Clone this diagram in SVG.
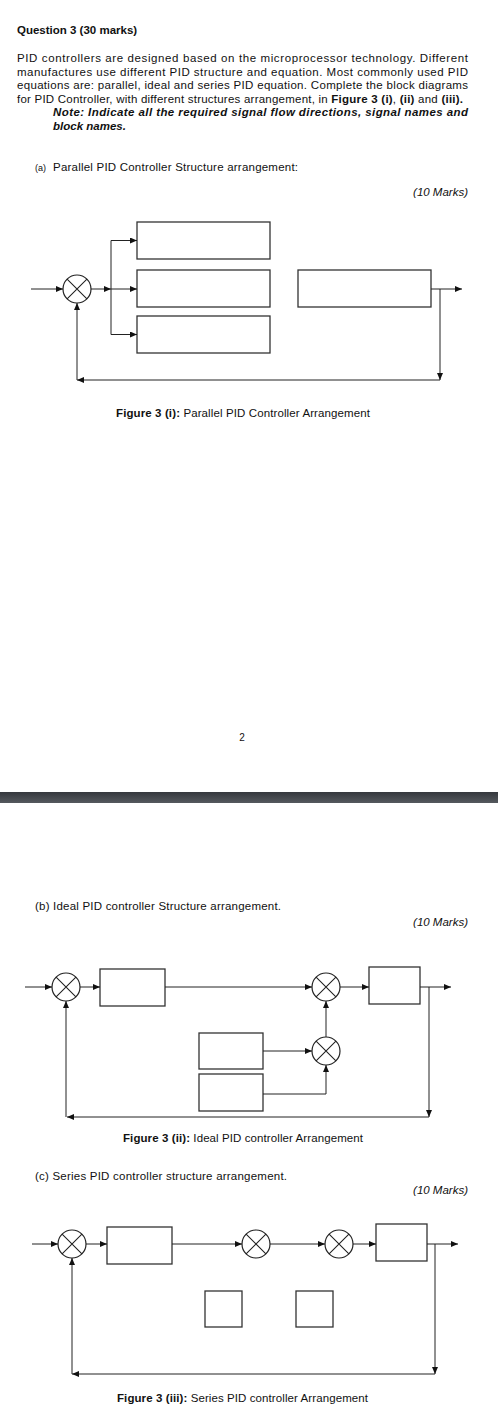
<svg xmlns="http://www.w3.org/2000/svg" width="498" height="1426" viewBox="0 0 498 1426">
<defs>
<marker id="ah" markerUnits="userSpaceOnUse" markerWidth="8" markerHeight="8" refX="7" refY="3" orient="auto"><path d="M0,0 L7,3 L0,6 z" fill="#111"/></marker>
<linearGradient id="bar" x1="0" y1="0" x2="0" y2="1"><stop offset="0" stop-color="#35383d"/><stop offset="1" stop-color="#55595e"/></linearGradient>
<g id="sum"><circle r="14" fill="#fff" stroke="#222" stroke-width="1.2"/><path d="M-9.9,-9.9 L9.9,9.9 M-9.9,9.9 L9.9,-9.9" stroke="#222" stroke-width="1.1"/></g>
</defs>
<style>
text{font-family:"Liberation Sans",Arial,sans-serif;fill:#111}
.t{font-size:11.5px}
.b{font-weight:bold}
.i{font-style:italic}
.box{fill:#fff;stroke:#333;stroke-width:1.3}
.c{fill:none;stroke:#222;stroke-width:1}
.a{marker-end:url(#ah)}
</style>
<rect width="498" height="1426" fill="#fff"/>
<g id="header">
<text class="t b" x="17" y="34">Question 3 (30 marks)</text>
<text class="t" x="17" y="62" textLength="451" lengthAdjust="spacing">PID controllers are designed based on the microprocessor technology. Different</text>
<text class="t" x="17" y="75.5" textLength="451" lengthAdjust="spacing">manufactures use different PID structure and equation. Most commonly used PID</text>
<text class="t" x="17" y="89" textLength="451" lengthAdjust="spacing">equations are: parallel, ideal and series PID equation. Complete the block diagrams</text>
<text class="t" x="17" y="102.5" textLength="446" lengthAdjust="spacing">for PID Controller, with different structures arrangement, in <tspan class="b">Figure 3 (i)</tspan>, <tspan class="b">(ii)</tspan> and <tspan class="b">(iii).</tspan></text>
<text class="t b i" x="53" y="116" textLength="415" lengthAdjust="spacing">Note: Indicate all the required signal flow directions, signal names and</text>
<text class="t b i" x="53" y="130">block names.</text>
</g>
<g id="fig-a-labels">
<text x="35" y="171" font-size="9">(a)</text>
<text class="t" x="53" y="171" textLength="245" lengthAdjust="spacing">Parallel PID Controller Structure arrangement:</text>
<text class="t i" x="468" y="196" text-anchor="end">(10 Marks)</text>
<text class="t" x="116" y="417" textLength="254" lengthAdjust="spacing"><tspan class="b">Figure 3 (i):</tspan> Parallel PID Controller Arrangement</text>
</g>
<g id="a-sum"><use href="#sum" x="77" y="289"/></g>
<g id="a-box1"><rect class="box" x="137" y="222" width="133" height="37"/></g>
<g id="a-box2"><rect class="box" x="137" y="270" width="133" height="37"/></g>
<g id="a-box3"><rect class="box" x="137" y="316" width="133" height="37"/></g>
<g id="a-box4"><rect class="box" x="298" y="270" width="133" height="37"/></g>
<g id="a-connectors">
<path class="c a" d="M31,289 H63"/>
<path class="c a" d="M91,289 H111"/>
<path class="c" d="M111,240.5 V334.5"/>
<path class="c a" d="M111,240.5 H137"/>
<path class="c a" d="M111,289 H137"/>
<path class="c a" d="M111,334.5 H137"/>
<path class="c a" d="M431,289 H462"/>
<path class="c a" d="M440,289 V380"/>
<path class="c a" d="M440,380 H77"/>
<path class="c a" d="M77,380 V303"/>
</g>
<g id="page-break">
<text x="242" y="741" font-family="'Liberation Serif',serif" font-size="10" text-anchor="middle">2</text>
<rect x="0" y="792" width="498" height="11" fill="url(#bar)"/>
</g>
<g id="fig-b-labels">
<text class="t" x="35" y="910" textLength="246" lengthAdjust="spacing">(b) Ideal PID controller Structure arrangement.</text>
<text class="t i" x="468" y="926" text-anchor="end">(10 Marks)</text>
<text class="t" x="123" y="1142" textLength="240" lengthAdjust="spacing"><tspan class="b">Figure 3 (ii):</tspan> Ideal PID controller Arrangement</text>
</g>
<g id="b-sum1"><use href="#sum" x="66" y="987"/></g>
<g id="b-box1"><rect class="box" x="100" y="969" width="65" height="37"/></g>
<g id="b-sum2"><use href="#sum" x="326" y="987"/></g>
<g id="b-box2"><rect class="box" x="369" y="967" width="51" height="37"/></g>
<g id="b-sum3"><use href="#sum" x="326" y="1051"/></g>
<g id="b-box3"><rect class="box" x="199" y="1033" width="64" height="36"/></g>
<g id="b-box4"><rect class="box" x="199" y="1074" width="64" height="37"/></g>
<g id="b-connectors">
<path class="c a" d="M25,987 H52"/>
<path class="c a" d="M80,987 H100"/>
<path class="c a" d="M165,987 H312"/>
<path class="c a" d="M340,987 H369"/>
<path class="c a" d="M420,987 H451"/>
<path class="c a" d="M429,987 V1117"/>
<path class="c a" d="M429,1117 H67"/>
<path class="c a" d="M66,1117 V1001"/>
<path class="c a" d="M326,1037 V1001"/>
<path class="c a" d="M263,1051 H312"/>
<path class="c a" d="M263,1094 H326 V1065"/>
</g>
<g id="fig-c-labels">
<text class="t" x="35" y="1180" textLength="252" lengthAdjust="spacing">(c) Series PID controller structure arrangement.</text>
<text class="t i" x="468" y="1194" text-anchor="end">(10 Marks)</text>
<text class="t" x="117" y="1402" textLength="251" lengthAdjust="spacing"><tspan class="b">Figure 3 (iii):</tspan> Series PID controller Arrangement</text>
</g>
<g id="c-sum1"><use href="#sum" x="72" y="1244"/></g>
<g id="c-box1"><rect class="box" x="107" y="1227" width="65" height="37"/></g>
<g id="c-sum2"><use href="#sum" x="256" y="1244"/></g>
<g id="c-sum3"><use href="#sum" x="339" y="1244"/></g>
<g id="c-box2"><rect class="box" x="376" y="1224" width="51" height="37"/></g>
<g id="c-box3"><rect class="box" x="205" y="1291" width="37" height="36"/></g>
<g id="c-box4"><rect class="box" x="296" y="1291" width="37" height="36"/></g>
<g id="c-connectors">
<path class="c a" d="M32,1244 H58"/>
<path class="c a" d="M86,1244 H107"/>
<path class="c a" d="M172,1244 H242"/>
<path class="c a" d="M270,1244 H325"/>
<path class="c a" d="M353,1244 H376"/>
<path class="c a" d="M427,1244 H458"/>
<path class="c a" d="M435,1244 V1374"/>
<path class="c a" d="M435,1374 H72"/>
<path class="c a" d="M72,1374 V1258"/>
</g>
</svg>
